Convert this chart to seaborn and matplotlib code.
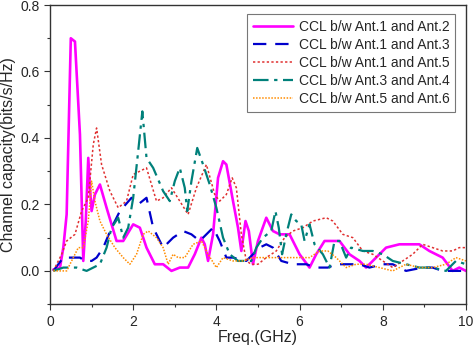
import numpy as np
import pandas as pd
import matplotlib
matplotlib.use("Agg")
import matplotlib.pyplot as plt
import seaborn as sns
from matplotlib.ticker import MultipleLocator

labels = ["CCL b/w Ant.1 and Ant.2", "CCL b/w Ant.1 and Ant.3", "CCL b/w Ant.1 and Ant.5",
          "CCL b/w Ant.3 and Ant.4", "CCL b/w Ant.5 and Ant.6"]

f12 = [0.08, 0.24, 0.32, 0.4, 0.5, 0.6, 0.72, 0.8, 0.86, 0.92, 0.96, 1.0, 1.08, 1.2, 1.36, 1.6, 1.76, 2.0, 2.16,
       2.32, 2.52, 2.72, 2.92, 3.12, 3.32, 3.48, 3.64, 3.72, 3.8, 3.92, 4.04, 4.16, 4.24, 4.4, 4.52, 4.6, 4.7,
       4.78, 4.88, 5.0, 5.2, 5.36, 5.52, 5.76, 6.0, 6.24, 6.4, 6.6, 6.96, 7.2, 7.44, 7.6, 7.84, 8.08, 8.4, 8.64,
       8.88, 9.12, 9.44, 9.68, 9.84, 10.0]
c12 = [0.004, 0.01, 0.07, 0.17, 0.70, 0.69, 0.41, 0.03, 0.15, 0.34, 0.25, 0.18, 0.23, 0.26, 0.19, 0.09, 0.09, 0.14,
       0.13, 0.07, 0.02, 0.02, 0.0, 0.01, 0.01, 0.05, 0.10, 0.08, 0.03, 0.11, 0.28, 0.33, 0.32, 0.21, 0.13, 0.06,
       0.15, 0.12, 0.02, 0.09, 0.16, 0.12, 0.11, 0.11, 0.05, 0.01, 0.05, 0.09, 0.09, 0.05, 0.03, 0.01, 0.04, 0.07,
       0.08, 0.08, 0.08, 0.06, 0.04, 0.0, 0.01, 0.0]

f13 = [0.08, 0.32, 0.52, 0.72, 0.84, 1.0, 1.12, 1.28, 1.48, 1.68, 1.96, 2.12, 2.32, 2.48, 2.72, 2.96, 3.2, 3.4,
       3.6, 3.92, 4.08, 4.24, 4.4, 4.72, 5.04, 5.2, 5.36, 5.56, 5.84, 6.16, 6.4, 6.68, 6.88, 7.12, 7.44, 7.68, 8.0,
       8.24, 8.56, 8.96, 9.2, 9.44, 9.76, 10.0]
c13 = [0.0, 0.04, 0.04, 0.04, 0.03, 0.03, 0.04, 0.07, 0.13, 0.18, 0.22, 0.20, 0.22, 0.13, 0.07, 0.10, 0.12, 0.11,
       0.09, 0.13, 0.09, 0.04, 0.04, 0.03, 0.07, 0.08, 0.07, 0.03, 0.02, 0.02, 0.01, 0.01, 0.02, 0.02, 0.02, 0.01,
       0.02, 0.02, 0.0, 0.01, 0.01, 0.0, 0.0, 0.0]

f15 = [0.08, 0.28, 0.4, 0.6, 0.76, 0.92, 1.04, 1.12, 1.24, 1.44, 1.64, 1.84, 2.0, 2.16, 2.32, 2.56, 2.72, 2.92,
       3.12, 3.32, 3.52, 3.76, 3.96, 4.08, 4.24, 4.38, 4.48, 4.6, 4.72, 4.84, 5.0, 5.2, 5.44, 5.64, 5.84, 6.08,
       6.32, 6.64, 6.8, 7.04, 7.28, 7.52, 7.76, 8.0, 8.24, 8.48, 8.72, 8.96, 9.2, 9.44, 9.68, 9.84, 10.0]
c15 = [0.0, 0.05, 0.09, 0.11, 0.18, 0.22, 0.38, 0.43, 0.32, 0.24, 0.19, 0.21, 0.29, 0.30, 0.31, 0.21, 0.22, 0.25,
       0.21, 0.17, 0.25, 0.32, 0.23, 0.21, 0.23, 0.28, 0.25, 0.11, 0.03, 0.02, 0.02, 0.04, 0.06, 0.10, 0.12, 0.13,
       0.15, 0.16, 0.15, 0.11, 0.10, 0.06, 0.05, 0.03, 0.01, 0.03, 0.05, 0.08, 0.07, 0.06, 0.06, 0.07, 0.07]

f34 = [0.08, 0.32, 0.64, 0.88, 1.04, 1.2, 1.36, 1.48, 1.64, 1.76, 1.88, 2.0, 2.12, 2.22, 2.32, 2.48, 2.72, 2.88,
       3.0, 3.12, 3.24, 3.3, 3.4, 3.54, 3.68, 3.84, 4.0, 4.16, 4.32, 4.52, 4.72, 4.84, 4.96, 5.12, 5.32, 5.42,
       5.5, 5.58, 5.68, 5.8, 5.92, 6.04, 6.12, 6.24, 6.36, 6.56, 6.72, 6.84, 6.96, 7.12, 7.24, 7.52, 7.76, 8.0,
       8.24, 8.56, 8.88, 9.2, 9.52, 9.76, 10.0]
c34 = [0.0, 0.01, 0.01, 0.0, 0.01, 0.02, 0.07, 0.13, 0.16, 0.10, 0.13, 0.22, 0.36, 0.48, 0.34, 0.31, 0.24, 0.21,
       0.27, 0.31, 0.25, 0.18, 0.27, 0.37, 0.32, 0.26, 0.19, 0.10, 0.05, 0.03, 0.03, 0.03, 0.07, 0.10, 0.12, 0.18,
       0.13, 0.05, 0.11, 0.17, 0.15, 0.14, 0.09, 0.14, 0.08, 0.05, 0.01, 0.09, 0.09, 0.04, 0.07, 0.06, 0.06, 0.05,
       0.03, 0.02, 0.01, 0.01, 0.0, 0.03, 0.02]

f56 = [0.08, 0.4, 0.52, 0.68, 0.8, 0.92, 1.0, 1.08, 1.2, 1.36, 1.56, 1.76, 1.92, 2.08, 2.24, 2.36, 2.56, 2.72,
       2.84, 2.96, 3.08, 3.24, 3.44, 3.64, 3.8, 4.0, 4.16, 4.4, 4.64, 4.88, 5.2, 5.6, 6.0, 6.24, 6.48, 6.68, 6.88,
       7.12, 7.36, 7.6, 7.92, 8.24, 8.56, 8.88, 9.2, 9.52, 9.76, 10.0]
c56 = [0.0, 0.0, 0.03, 0.07, 0.07, 0.15, 0.27, 0.21, 0.15, 0.11, 0.07, 0.04, 0.02, 0.05, 0.11, 0.12, 0.10, 0.07,
       0.02, 0.05, 0.04, 0.04, 0.08, 0.09, 0.05, 0.01, 0.04, 0.03, 0.03, 0.04, 0.04, 0.04, 0.04, 0.04, 0.06, 0.06,
       0.04, 0.01, 0.02, 0.02, 0.01, 0.0, 0.02, 0.01, 0.01, 0.02, 0.04, 0.03]

xticks = [0, 2, 4, 6, 8, 10]
yticks = [0.0, 0.2, 0.4, 0.6, 0.8]

sns.set_theme(style="ticks")
plt.rcParams['font.family'] = ['Liberation Sans', 'DejaVu Sans']

fig = plt.figure(figsize=(4.74, 3.46), dpi=100)
ax = fig.add_axes([0.1055, 0.121, 0.8775, 0.8645])

series = [(f12, c12, "#FF00FF", "-", 1.9),
          (f13, c13, "#0000CC", (0, (6, 4)), 1.6),
          (f15, c15, "#E03030", (0, (1.5, 1.5)), 1.1),
          (f34, c34, "#00807A", (0, (7, 2.5, 1.5, 2.5)), 1.6),
          (f56, c56, "#FF8C00", (0, (1, 1)), 1.1)]

for (fx, cy, col, ls, lw), lab in zip(series, labels):
    df = pd.DataFrame({"f": fx, "c": cy})
    sns.lineplot(data=df, x="f", y="c", ax=ax, color=col, linestyle=ls, linewidth=lw, label=lab)

ax.set_xlim(0, 10)
ax.set_ylim(-0.1, 0.8)
ax.set_xticks(xticks)
ax.set_xticklabels([str(t) for t in xticks])
ax.set_yticks(yticks)
ax.set_yticklabels([f"{t:.1f}" for t in yticks])
ax.xaxis.set_minor_locator(MultipleLocator(1))
ax.yaxis.set_minor_locator(MultipleLocator(0.1))
ax.tick_params(which="major", direction="out", length=4, width=0.8, labelsize=10, color="#333333")
ax.tick_params(which="minor", direction="out", length=2.5, width=0.8, color="#333333")
for s in ax.spines.values():
    s.set_visible(True)
    s.set_linewidth(1.0)
    s.set_color("#333333")
ax.set_xlabel("Freq.(GHz)", fontsize=11.5, labelpad=1)
ax.set_ylabel("Channel capacity(bits/s/Hz)", fontsize=11.5, labelpad=3)

leg = ax.legend(loc="upper right", bbox_to_anchor=(0.974, 0.97), fontsize=10, frameon=True, fancybox=False,
                edgecolor="#555555", handlelength=2.9, handletextpad=0.4, borderpad=0.4, labelspacing=0.3,
                borderaxespad=0.0)
leg.get_frame().set_linewidth(0.8)

fig.savefig("out.png", dpi=100)
